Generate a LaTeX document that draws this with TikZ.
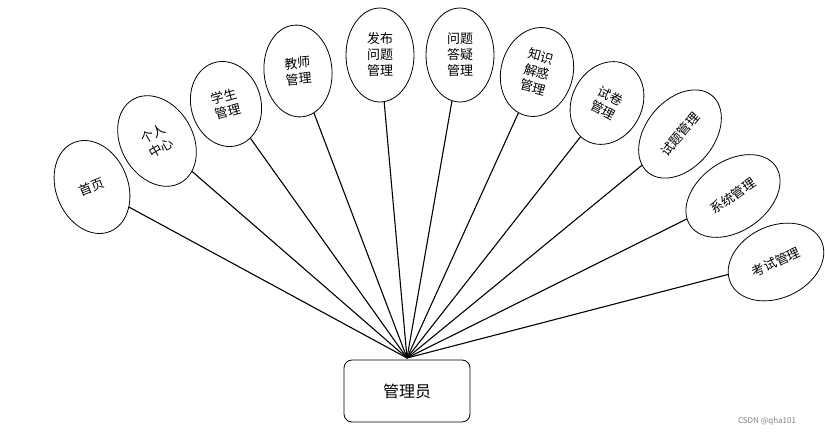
\documentclass[tikz,border=0pt]{standalone}
\usepackage{fontspec}
\newfontfamily\cjk{Noto Sans CJK SC}
\usetikzlibrary{shapes.geometric}
\begin{document}
\begin{tikzpicture}[x=1pt,y=-1pt,
  el/.style={ellipse,draw,line width=0.8pt,inner sep=0pt,font=\cjk\fontsize{13}{16}\selectfont,align=center,fill=white},
  conn/.style={line width=1.1pt}]
\useasboundingbox (0,0) rectangle (825,436);
\coordinate (hub) at (407,358);
\node[el,minimum width=72,minimum height=96,rotate=22] (e1) at (92,187) {首页};
\node[el,minimum width=72,minimum height=96,rotate=30] (e2) at (157,141) {个人\\中心};
\node[el,minimum width=70,minimum height=86,rotate=15] (e3) at (226,104) {学生\\管理};
\node[el,minimum width=68,minimum height=92,rotate=5] (e4) at (298,71) {教师\\管理};
\node[el,minimum width=68,minimum height=94] (e5) at (380,55) {发布\\问题\\管理};
\node[el,minimum width=68,minimum height=94] (e6) at (460,55) {问题\\答疑\\管理};
\node[el,minimum width=72,minimum height=90,rotate=-15] (e7) at (537,72) {知识\\解惑\\管理};
\node[el,minimum width=70,minimum height=86,rotate=-28] (e8) at (607,103) {试卷\\管理};
\node[el,minimum width=100,minimum height=68,rotate=50] (e9) at (680,134) {试题管理};
\node[el,minimum width=104,minimum height=70,rotate=35] (e10) at (733,196) {系统管理};
\node[el,minimum width=100,minimum height=72,rotate=25] (e11) at (776,262) {考试管理};
\node[draw,rounded corners=8pt,line width=0.8pt,minimum width=126,minimum height=62,font=\cjk\fontsize{16}{19}\selectfont] (root) at (407,391) {管理员};
\foreach \i in {1,...,11} \draw[conn] (e\i) -- (hub);
\node[font=\cjk\fontsize{8}{10}\selectfont,text=gray] (wm) at (767,421) {CSDN @qha101};
\end{tikzpicture}
\end{document}
